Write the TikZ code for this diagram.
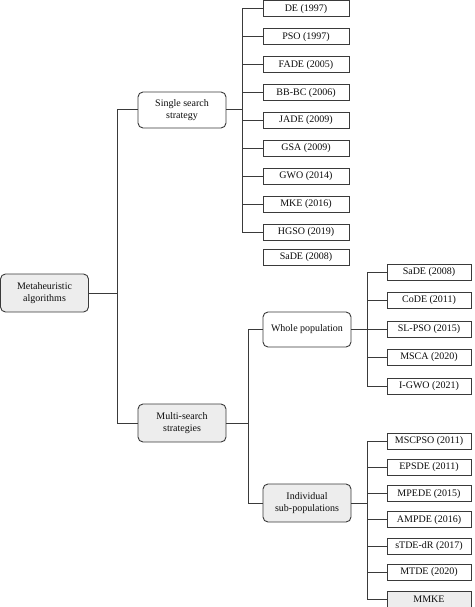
\documentclass[tikz,border=0pt]{standalone}
\usepackage{fontspec}
\setmainfont{Liberation Serif}
\usetikzlibrary{positioning,calc}
\definecolor{linegray}{HTML}{3A3A3A}
\definecolor{boxgray}{HTML}{EDEDED}

\begin{document}
\begin{tikzpicture}[x=1pt,y=-1pt,
    every node/.style={font=\fontsize{10}{12}\selectfont, text=black!95},
    leaf/.style={draw=linegray, line width=1pt, fill=white, minimum width=86pt, minimum height=16pt, inner sep=0pt},
    group/.style={draw=linegray, line width=0.9pt, fill=white, rounded corners=5pt, align=center, inner sep=0pt, minimum width=88pt},
    shaded/.style={fill=boxgray},
    conn/.style={draw=linegray, line width=1pt}]
    \useasboundingbox (0,0) rectangle (474,607);

    % Bus lines
    \coordinate (busA) at (117,0);
    \coordinate (busB) at (242,0);
    \coordinate (busC) at (248,0);
    \coordinate (busD) at (367,0);

    % Categories
    \node[group,shaded,minimum height=38pt] (meta) at (44.5,293) {Metaheuristic\\algorithms};
    \node[group,minimum height=36pt] (single) at (182,110) {Single search\\strategy};
    \node[group,shaded,minimum height=38pt] (multi) at (182,423) {Multi-search\\strategies};
    \node[group,minimum height=35pt] (whole) at (307,329.5) {Whole population};
    \node[group,shaded,minimum height=38pt] (indiv) at (307,503) {Individual\\sub-populations};

    % Single search algorithms
    \foreach \name/\txt [count=\i from 0] in {de/DE (1997), pso/PSO (1997), fade/FADE (2005),
        bbbc/BB-BC (2006), jade/JADE (2009), gsa/GSA (2009), gwo/GWO (2014), mke/MKE (2016),
        hgso/HGSO (2019)}
        \node[leaf] (\name) at (306, 9+27.875*\i) {\txt};
    \node[leaf] (sadeA) at (306,257) {SaDE (2008)};

    % Whole population algorithms
    \foreach \name/\txt [count=\i from 0] in {sade/SaDE (2008), code/CoDE (2011),
        slpso/SL-PSO (2015), msca/MSCA (2020), igwo/I-GWO (2021)}
        \node[leaf,minimum width=84pt] (\name) at (429, 272+28.5*\i) {\txt};

    % Sub-population algorithms
    \foreach \name/\txt [count=\i from 0] in {mscpso/MSCPSO (2011), epsde/EPSDE (2011),
        mpede/MPEDE (2015), ampde/AMPDE (2016), stde/sTDE-dR (2017), mtde/MTDE (2020)}
        \node[leaf,minimum width=84pt] (\name) at (429, 441+26.3*\i) {\txt};
    \node[leaf,shaded,minimum width=84pt] (mmke) at (429,599) {MMKE};

    % Connectors
    \foreach \n in {single,multi}
        \draw[conn] (meta.east) -| (busA |- \n) -- (\n.west);
    \foreach \n in {de,pso,fade,bbbc,jade,gsa,gwo,mke,hgso}
        \draw[conn] (single.east) -| (busB |- \n) -- (\n.west);
    \foreach \n in {whole,indiv}
        \draw[conn] (multi.east) -| (busC |- \n) -- (\n.west);
    \foreach \n in {sade,code,slpso,msca,igwo}
        \draw[conn] (whole.east) -| (busD |- \n) -- (\n.west);
    \foreach \n in {mscpso,epsde,mpede,ampde,stde,mtde,mmke}
        \draw[conn] (indiv.east) -| (busD |- \n) -- (\n.west);
\end{tikzpicture}
\end{document}
